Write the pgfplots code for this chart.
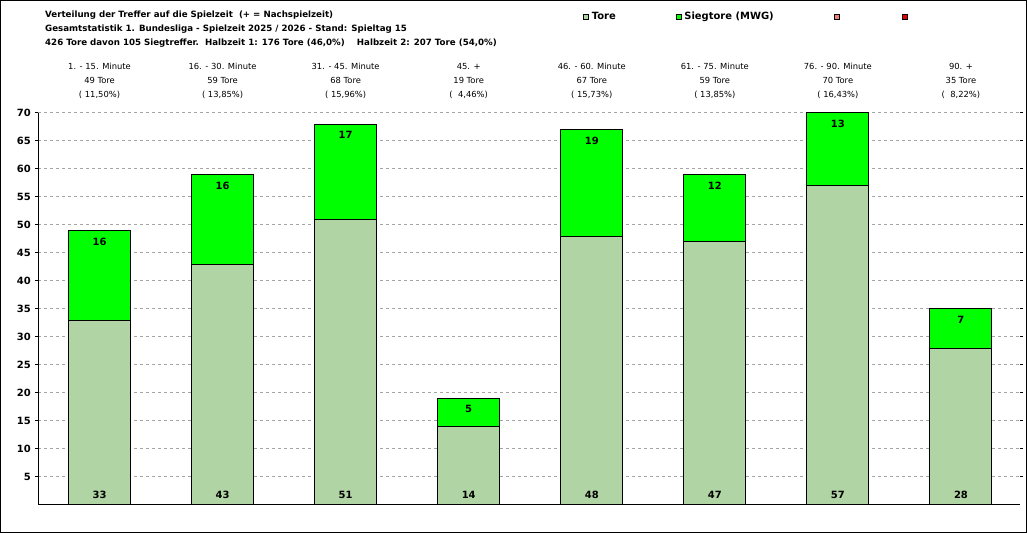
\documentclass[border=0pt]{standalone}
\usepackage{pgfplots}
\pgfplotsset{compat=1.18}
\usepackage{pgfplotstable}
\usepackage{fontspec}
\setmainfont{DejaVu Sans}

\definecolor{toregreen}{RGB}{176,212,164}
\definecolor{sieggreen}{RGB}{0,255,0}
\definecolor{legpink}{RGB}{240,128,128}
\definecolor{legred}{RGB}{230,0,0}
\definecolor{gridgray}{RGB}{165,165,165}

\pgfplotsset{sqleg/.style={legend image code/.code={\draw[##1,draw=black,line width=0.6bp] (0bp,-2.5bp) rectangle (5bp,2.5bp);}}}
\tikzset{labelstyle/.style={font=\bfseries\fontsize{10}{10}\selectfont}}

% base = Tore ohne Siegtreffer, sieg = Siegtore, total = alle Tore, null = Fusslabels
\pgfplotstableread{
x base sieg total null
0 33 16 49 0
1 43 16 59 0
2 51 17 68 0
3 14 5 19 0
4 48 19 67 0
5 47 12 59 0
6 57 13 70 0
7 28 7 35 0
}\treffer

\begin{document}
\begin{tikzpicture}[x=1bp,y=1bp]
\useasboundingbox (0,0) rectangle (1027,533);
\draw[line width=1bp] (0.5,0.5) rectangle (1026.5,532.5);
\node[anchor=north west, align=left, inner sep=0pt,
      font=\bfseries\fontsize{8.7}{14}\selectfont] at (45,522)
  {Verteilung der Treffer auf die Spielzeit\ \ (+ = Nachspielzeit)\\
   Gesamtstatistik 1. Bundesliga - Spielzeit 2025 / 2026 - Stand: Spieltag 15\\
   426 Tore davon 105 Siegtreffer.\ \ Halbzeit 1: 176 Tore (46,0\%)\ \ \ \ Halbzeit 2: 207 Tore (54,0\%)};
\begin{axis}[
    at={(38bp,28bp)}, anchor=south west,
    scale only axis, width=982bp, height=392bp,
    xmin=-0.5, xmax=7.48, ymin=0, ymax=70,
    /pgf/number format/assume math mode=true,
    axis line style={draw=none},
    ytick={5,10,...,70},
    yticklabel style={font=\bfseries\fontsize{10}{10}\selectfont, inner sep=1bp, xshift=-3bp},
    ytick style={black, line width=1bp},
    tick align=outside, major tick length=3bp,
    ymajorgrids,
    grid style={gridgray, line width=1bp, dash pattern=on 3bp off 3bp},
    xtick=data,
    xticklabel pos=upper,
    xtick style={draw=none},
    xticklabels={
      {1. - 15. Minute\\49 Tore\\( 11,50\%)},
      {16. - 30. Minute\\59 Tore\\( 13,85\%)},
      {31. - 45. Minute\\68 Tore\\( 15,96\%)},
      {45. +\\19 Tore\\(~~4,46\%)},
      {46. - 60. Minute\\67 Tore\\( 15,73\%)},
      {61. - 75. Minute\\59 Tore\\( 13,85\%)},
      {76. - 90. Minute\\70 Tore\\( 16,43\%)},
      {90. +\\35 Tore\\(~~8,22\%)}},
    xticklabel style={align=center, font=\fontsize{8.4}{14}\selectfont, anchor=south, yshift=8bp},
    legend columns=4,
    legend style={draw=none, fill=none, at={(0.555,1.245)}, anchor=west, inner sep=0pt,
      font=\bfseries\fontsize{10}{10}\selectfont,
      /tikz/every odd column/.append style={column sep=1bp},
      /tikz/every even column/.append style={column sep=58bp}},
]
% Gesamtbalken (Siegtore oben), darueber die Tore ohne Siegtreffer
\addplot[forget plot, ybar, bar width=62bp, bar shift=0pt, fill=sieggreen, draw=black, line width=1bp]
  table[x=x, y=total] {\treffer};
\addplot[forget plot, ybar, bar width=62bp, bar shift=0pt, fill=toregreen, draw=black, line width=1bp]
  table[x=x, y=base] {\treffer};
% Zahlen in den Balken
\addplot[forget plot, draw=none, mark=none, point meta=explicit, nodes near coords,
  every node near coord/.append style={labelstyle, anchor=north, yshift=-3.6bp}]
  table[x=x, y=total, meta=sieg] {\treffer};
\addplot[forget plot, draw=none, mark=none, point meta=explicit, nodes near coords,
  every node near coord/.append style={labelstyle, anchor=south, yshift=2.5bp}]
  table[x=x, y=null, meta=base] {\treffer};
\addlegendimage{sqleg, fill=toregreen}
\addlegendentry{Tore\hspace{6bp}}
\addlegendimage{sqleg, fill=sieggreen}
\addlegendentry{Siegtore (MWG)\hspace{13bp}}
\addlegendimage{sqleg, fill=legpink}
\addlegendentry{\mbox{}}
\addlegendimage{sqleg, fill=legred}
\addlegendentry{\mbox{}}
\draw[line width=1.6bp] (rel axis cs:0,1) -- (rel axis cs:0,0);
\draw[line width=2bp] ([xshift=-2bp]rel axis cs:0,0) -- (rel axis cs:1,0);
\end{axis}
\end{tikzpicture}
\end{document}
